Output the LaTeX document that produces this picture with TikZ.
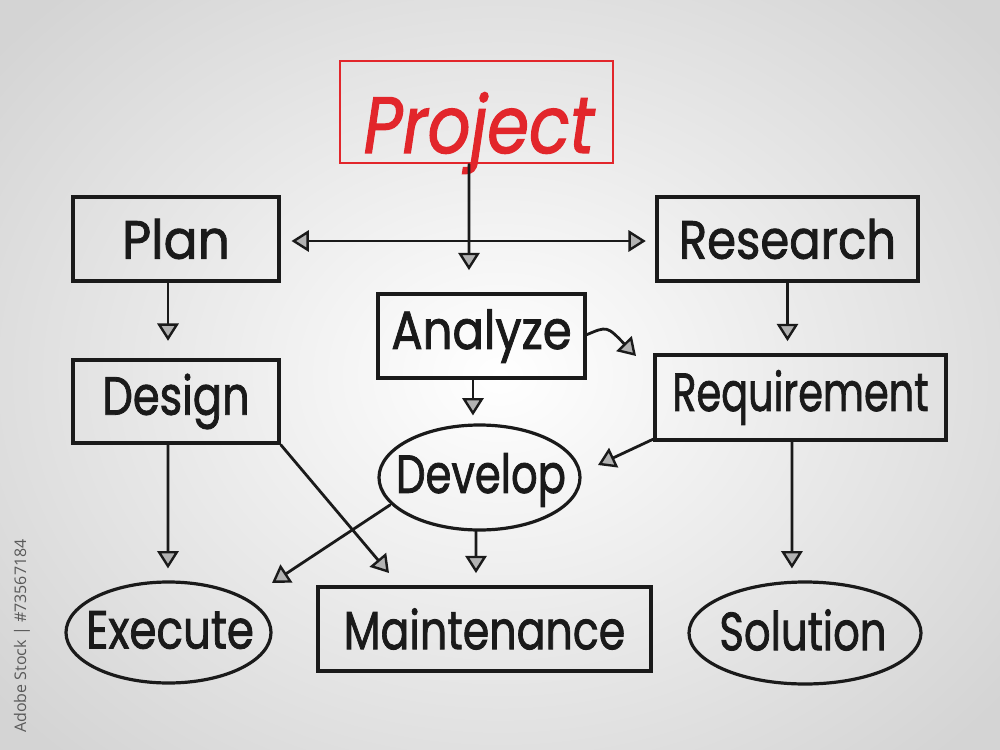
\documentclass[tikz,border=0pt]{standalone}
\usepackage{fontspec}
\setmainfont{Poppins}[BoldFont=Poppins,BoldFeatures={FakeBold=1.6},BoldItalicFont=Poppins Italic,BoldItalicFeatures={FakeBold=1.6}]
\newfontfamily\sidefont{Open Sans}
\usetikzlibrary{arrows.meta,shapes.geometric}
\definecolor{projred}{HTML}{E2262B}
\definecolor{ink}{HTML}{1A1A1A}
\newcommand{\hw}[2]{\scalebox{#1}[1.12]{#2}}
\tikzset{
  box/.style={draw=ink,line width=2.8pt,rectangle,inner sep=0pt,font=\fontsize{36}{38}\selectfont\bfseries,text=ink},
  oval/.style={draw=ink,line width=2.4pt,ellipse,inner sep=0pt},
  txt/.style={inner sep=0pt,font=\fontsize{36}{38}\selectfont\bfseries,text=ink},
  arr/.style={draw=ink,line width=2.1pt,line cap=round,-{Triangle[length=13pt,width=16pt,fill=gray!60,line width=1.8pt]}},
  darr/.style={draw=ink,line width=2.1pt,{Triangle[length=13pt,width=16pt,fill=gray!60,line width=1.8pt]}-{Triangle[length=13pt,width=16pt,fill=gray!60,line width=1.8pt]}}
}
\begin{document}
\begin{tikzpicture}[x=0.75pt,y=-0.75pt]
\useasboundingbox (0,0) rectangle (1000,750);
\shade[inner color=white,outer color=black!17] (-150,-150) rectangle (1150,900);
% boxes
\node[box,draw=projred,line width=2.2pt,minimum width=273*0.75pt,minimum height=102*0.75pt] (project) at (476.5,112) {};
\node[txt,text=projred,font=\fontsize{52}{54}\selectfont\bfseries\itshape] (projecttxt) at (479,133) {\scalebox{0.97}[1.15]{Project}};
\node[box,minimum width=206*0.75pt,minimum height=84*0.75pt] (plan) at (176,239) {\hw{1.05}{Plan}};
\node[box,minimum width=261*0.75pt,minimum height=84*0.75pt] (research) at (787.5,239) {\hw{0.97}{Research}};
\node[box,minimum width=207*0.75pt,minimum height=84*0.75pt] (analyze) at (481.5,336) {\hw{0.97}{Analyze}};
\node[box,minimum width=206*0.75pt,minimum height=83*0.75pt] (design) at (176,401.5) {\hw{0.9}{Design}};
\node[box,minimum width=291*0.75pt,minimum height=85*0.75pt] (requirement) at (800.5,397.5) {\hw{0.83}{Requirement}};
\node[oval,minimum width=201*0.75pt,minimum height=105*0.75pt] (develop) at (479.5,477.5) {};
\node[txt] (developtxt) at (481,480) {\hw{0.87}{Develop}};
\node[oval,minimum width=205*0.75pt,minimum height=101*0.75pt] (execute) at (168.5,632.5) {};
\node[txt] (executetxt) at (170,630) {\hw{0.91}{Execute}};
\node[box,minimum width=333*0.75pt,minimum height=84*0.75pt] (maintenance) at (484.5,629) {\hw{0.89}{Maintenance}};
\node[oval,minimum width=232*0.75pt,minimum height=102*0.75pt] (solution) at (805,633) {};
\node[txt] (solutiontxt) at (803,630) {\hw{0.87}{Solution}};
% free ends
\coordinate (a1) at (636,356);
\coordinate (a2) at (598,465);
\coordinate (a3) at (389,573);
\coordinate (a4) at (272,583);
\coordinate (d1) at (390,505);
% connectors
\draw[arr,shorten >=22*0.75pt] ([xshift=-5.6pt]project.south) -- ([xshift=-9.4pt]analyze.north);
\draw[darr,shorten <=8pt,shorten >=7pt] ([yshift=-1.5pt]plan.east) -- ([yshift=-1.5pt]research.west);
\draw[arr,shorten >=13pt] ([xshift=-6pt]plan.south) -- ([xshift=-6pt]design.north);
\draw[arr,shorten >=9pt] (research.south) -- (research.south |- requirement.north);
\draw[arr] ([yshift=1pt]analyze.east) .. controls (607,326) .. (a1);
\draw[arr,shorten >=6pt] ([xshift=-6.4pt]analyze.south) -- ([xshift=-4.9pt]develop.north);
\draw[arr] ([yshift=2pt]requirement.south west) -- (a2);
\draw[arr,shorten >=9pt] ([xshift=-6pt]design.south) -- ([xshift=-0.4pt]execute.north);
\draw[arr] (design.south east) -- (a3);
\draw[arr] (d1) -- (a4);
\draw[arr,shorten >=9pt] ([xshift=-2.6pt]develop.south) -- ([xshift=-6.4pt]maintenance.north);
\draw[arr,shorten >=9pt] ([xshift=-6.4pt]requirement.south) -- ([xshift=-9.8pt]solution.north);
% side credit
\node[rotate=90,font=\sidefont\fontsize{12}{14}\selectfont,text=black!65] (credit) at (22,636) {Adobe Stock | \#73567184};
\end{tikzpicture}
\end{document}
